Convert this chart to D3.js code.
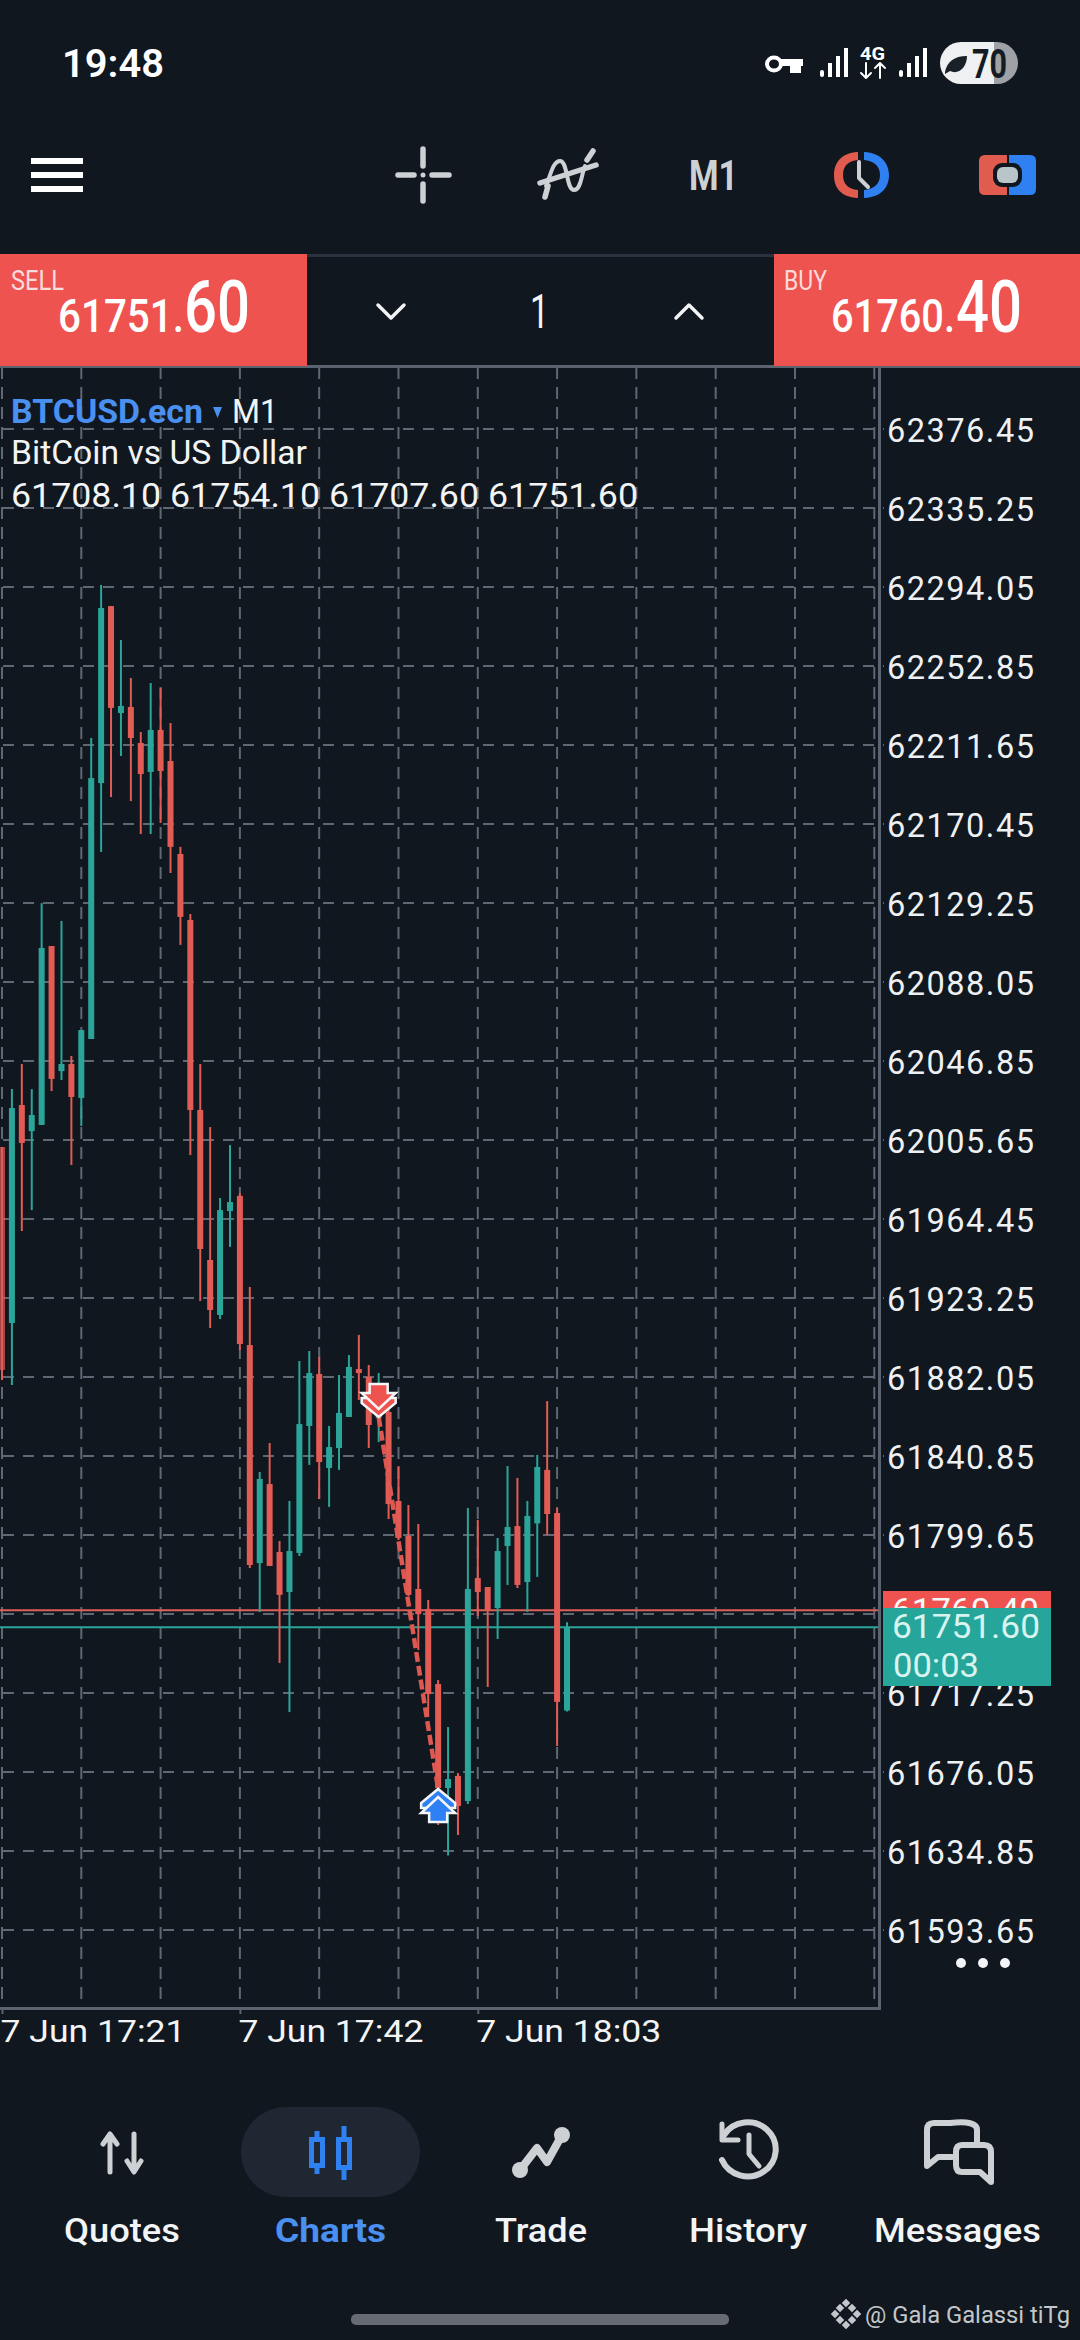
<!DOCTYPE html>
<html>
<head>
<meta charset="utf-8">
<style>
  html, body { margin: 0; padding: 0; background: #10171f; }
  svg { display: block; }
  text { font-family: Roboto, sans-serif; }
</style>
</head>
<body>
<svg id="container" width="1080" height="2340"></svg>

<script src="https://d3js.org/d3.v7.min.js"></script>
<script>
  // OHLC of the M1 bars
  const opens = [62002.0,61910.2,62023.9,62010.3,62013.5,62106.8,62041.6,62045.3,62027.6,62058.3,
    62191.8,62284.1,62228.3,62231.5,62212.7,62197.6,62219.5,62203.3,62154.8,62120.4,
    62021.3,61943.1,61914.4,61968.6,61976.5,61898.7,61785.0,61826.2,61790.8,61769.9,
    61790.3,61856.5,61883.6,61834.6,61845.0,61861.2,61886.2,61882.1,61860.7,61863.8,
    61817.4,61799.1,61771.5,61761.1,61721.9,61667.7,61674.0,61660.9,61777.2,61772.5,
    61761.6,61793.9,61804.3,61775.1,61805.7,61833.6,61811.1,61708.10]
  const highs = [62002.0,62032.2,62045.3,62032.2,62129.2,62106.8,62119.9,62049.5,62063.0,62215.3,
    62295.1,62284.1,62266.4,62246.6,62218.4,62244.0,62241.4,62223.1,62158.5,62123.5,
    62045.3,62012.4,61975.4,62003.0,61978.0,61929.0,61832.5,61847.6,61796.5,61817.4,
    61890.4,61895.6,61892.5,61856.5,61883.1,61893.5,61904.0,61888.3,61884.1,61867.4,
    61835.6,61815.3,61805.4,61765.8,61724.0,61699.5,61675.5,61813.7,61807.5,61772.5,
    61798.1,61835.6,61829.4,61817.4,61841.4,61869.5,61813.7,61754.10]
  const lows = [61880.5,61877.9,61958.2,61969.1,62013.5,62031.2,62036.9,61992.6,62013.0,62058.3,
    62155.9,62184.5,62205.9,62182.4,62165.2,62165.2,62171.0,62144.9,62107.4,61997.8,
    61921.7,61907.6,61912.3,61949.9,61896.1,61782.4,61759.5,61783.5,61732.9,61707.3,
    61788.7,61836.2,61818.4,61814.3,61833.6,61861.2,61870.1,61845.0,61848.1,61808.0,
    61797.0,61767.8,61739.7,61704.7,61648.4,61632.5,61643.2,61659.4,61757.4,61720.4,
    61745.4,61773.6,61772.0,61759.5,61777.8,61799.7,61689.6,61707.60]
  const closes = [61885.7,62022.3,62004.1,62018.7,62105.8,62037.5,62045.3,62028.1,62063.0,62194.4,
    62283.1,62231.0,62232.0,62215.3,62196.5,62219.5,62198.1,62158.5,62122.0,62021.3,
    61948.8,61917.0,61969.1,61973.3,61899.3,61784.0,61828.9,61783.5,61768.4,61791.3,
    61857.5,61884.1,61837.7,61845.5,61863.3,61887.3,61884.1,61857.0,61872.7,61815.8,
    61798.1,61768.4,61758.4,61716.7,61667.7,61672.4,61658.3,61771.5,61769.9,61760.5,
    61791.3,61803.8,61773.6,61809.6,61835.1,61810.6,61712.6,61751.60]

  const priceTicks = [62376.45,62335.25,62294.05,62252.85,62211.65,62170.45,62129.25,62088.05,62046.85,62005.65,
    61964.45,61923.25,61882.05,61840.85,61799.65,61758.45,61717.25,61676.05,61634.85,61593.65]
  const timeBars = [0, 24, 48]
  const timeLabels = ['7 Jun 17:21', '7 Jun 17:42', '7 Jun 18:03']
  const gridBars = [0, 8, 16, 24, 32, 40, 48, 56, 64, 72, 80, 88]

  const ask = 61760.40
  const bid = 61751.60
  const tradeBars = [38, 44]
  const tradePrices = [61861.2, 61667.2]

  const bg = '#10171f', red = '#ef5350', barRed = '#e25b55', teal = '#2ba599', blue = '#4a90f0',
    gridCol = '#5e6773', frameCol = '#5b6370', iconCol = '#ced1d4', white = '#f2f4f5'

  const svg = d3.select('#container')
  const yScale = d3.scaleLinear().domain([61593.65, 62376.45]).range([1930, 429])
  const xScale = d3.scaleLinear().domain([0, 57]).range([2, 567])

  // text squeezed to the measured width, the screenshot is stretched
  function label(s, x, base, size, width, fill, weight) {
    const t = svg.append('text').attr('x', x).attr('y', base)
      .attr('font-size', size).attr('font-weight', weight || 400).attr('fill', fill || white).text(s)
    if (width) t.attr('textLength', width).attr('lengthAdjust', 'spacingAndGlyphs')
    return t
  }
  function rect(x, y, w, h, fill, r) {
    return svg.append('rect').attr('x', x).attr('y', y).attr('width', w).attr('height', h)
      .attr('fill', fill).attr('rx', r || 0)
  }
  function stroke(d, col, w) {
    return svg.append('path').attr('d', d).attr('fill', 'none').attr('stroke', col)
      .attr('stroke-width', w).attr('stroke-linecap', 'round').attr('stroke-linejoin', 'round')
  }

  rect(0, 0, 1080, 2340, bg)

  // grid
  svg.append('g').selectAll('line').data(priceTicks).enter().append('line')
    .attr('x1', 3).attr('x2', 884)
    .attr('y1', d => yScale(d)).attr('y2', d => yScale(d))
    .attr('stroke', gridCol).attr('stroke-width', 2).attr('stroke-dasharray', '11 9')
  svg.append('g').selectAll('line').data(gridBars).enter().append('line')
    .attr('x1', d => xScale(d)).attr('x2', d => xScale(d))
    .attr('y1', 367).attr('y2', 2008)
    .attr('stroke', gridCol).attr('stroke-width', 2).attr('stroke-dasharray', '12 8')

  // ask and bid lines sit under the bars
  svg.append('line').attr('x1', 0).attr('x2', 879).attr('y1', yScale(ask)).attr('y2', yScale(ask))
    .attr('stroke', '#dd5f59').attr('stroke-width', 2)
  svg.append('line').attr('x1', 0).attr('x2', 879).attr('y1', yScale(bid)).attr('y2', yScale(bid))
    .attr('stroke', teal).attr('stroke-width', 2)

  // candles, the first one is half off the left edge and looks dimmer
  const bars = d3.range(opens.length)
  const barCol = i => closes[i] >= opens[i] ? teal : barRed
  svg.append('g').selectAll('line').data(bars).enter().append('line')
    .attr('x1', i => xScale(i)).attr('x2', i => xScale(i))
    .attr('y1', i => yScale(highs[i])).attr('y2', i => yScale(lows[i]))
    .attr('stroke', barCol).attr('stroke-width', 2)
  svg.append('g').selectAll('rect').data(bars).enter().append('rect')
    .attr('x', i => xScale(i) - 3).attr('width', 6)
    .attr('y', i => yScale(Math.max(opens[i], closes[i])))
    .attr('height', i => Math.max(2, Math.abs(yScale(opens[i]) - yScale(closes[i]))))
    .attr('fill', barCol)
    .attr('fill-opacity', i => i === 0 ? 0.7 : 1)

  // trade line and its arrows
  const tradeLine = d3.line().x(d => xScale(d[0])).y(d => yScale(d[1]))
  svg.append('path').attr('d', tradeLine(d3.zip(tradeBars, tradePrices)))
    .attr('fill', 'none').attr('stroke', '#dd5850').attr('stroke-width', 4.5).attr('stroke-dasharray', '10 4')

  function arrow(x, y, dir, fill) {
    const g = svg.append('g').attr('transform', `translate(${x},${y}) scale(1,${dir})`)
      .attr('stroke', '#f4f6f8').attr('stroke-width', 2.5).attr('stroke-linejoin', 'miter').attr('fill', fill)
    g.append('path').attr('d', 'M-17,-14 L0,0 L17,-14 L17,-19 L-17,-19 Z')
    g.append('path').attr('d', 'M-9,-33 L9,-33 L9,-24 L17,-24 L0,-8 L-17,-24 L-9,-24 Z')
  }
  arrow(xScale(tradeBars[0]), yScale(tradePrices[0]), 1, red)
  arrow(xScale(tradeBars[1]), yScale(tradePrices[1]), -1, '#2f80f5')

  // frame
  rect(878, 367, 3, 1643, frameCol)
  rect(0, 2007, 881, 3, frameCol)

  // price axis
  const priceAxis = d3.axisRight(yScale).tickValues(priceTicks).tickFormat(d3.format('.2f')).tickSize(0).tickPadding(0)
  const pa = svg.append('g').attr('transform', 'translate(887,0)').call(priceAxis)
  pa.select('.domain').remove()
  pa.selectAll('text').attr('font-family', 'Roboto').attr('font-size', 32.5).attr('fill', '#eef1f3')
    .attr('dy', null).attr('y', 0).attr('dominant-baseline', null)
    .attr('transform', 'translate(0,12)')
    .attr('textLength', 147).attr('lengthAdjust', 'spacing')

  // time axis
  const timeAxis = d3.axisBottom(xScale).tickValues(timeBars).tickFormat((d, i) => timeLabels[i]).tickSize(5).tickPadding(0)
  const ta = svg.append('g').attr('transform', 'translate(0,2009)').call(timeAxis)
  ta.select('.domain').remove()
  ta.selectAll('line').attr('stroke', frameCol).attr('stroke-width', 2)
  ta.selectAll('text').attr('font-family', 'Roboto').attr('font-size', 32).attr('fill', white)
    .attr('text-anchor', 'start').attr('x', -2).attr('y', 33).attr('dy', null)
    .attr('textLength', 185).attr('lengthAdjust', 'spacingAndGlyphs')

  // current price tags
  rect(883, 1591, 168, 20, red)
  label(d3.format('.2f')(ask), 892, 1622, 32.5, 147, '#f6f7f7')
  rect(883, 1608, 168, 78, '#26a69a')
  label(d3.format('.2f')(bid), 892, 1638, 32.5, 148, '#d9f4f0')
  label('00:03', 893, 1677, 32.5, 86, '#d9f4f0')
  svg.append('g').selectAll('circle').data([961, 983, 1005]).enter().append('circle')
    .attr('cx', d => d).attr('cy', 1963).attr('r', 5).attr('fill', '#f2f4f5')

  // chart header
  label('BTCUSD.ecn', 11, 423, 33, 192, blue, 700)
  svg.append('path').attr('d', 'M213,407 L222,407 L217.5,418 Z').attr('fill', blue)
  label('M1', 232, 423, 33, 46)
  label('BitCoin vs US Dollar', 11, 464, 33, 296)
  const headerValues = [opens[57], highs[57], lows[57], closes[57]]
  ;[11, 170, 329, 488].forEach((x, i) => label(d3.format('.2f')(headerValues[i]), x, 507, 33, 150))

  // sell / buy strip
  rect(307, 254, 467, 113, bg)
  rect(307, 254, 467, 3, '#2a3240')
  rect(0, 365, 1080, 3, frameCol)
  rect(0, 254, 307, 112, red)
  rect(774, 254, 306, 112, red)
  label('SELL', 11, 290, 28, 53, '#fbdcdc')
  label('61751.', 58, 332, 47, 126, '#fff', 500)
  label('60', 184, 332, 72, 66, '#fff', 500)
  label('BUY', 784, 290, 28, 43, '#fbdcdc')
  label('61760.', 831, 332, 47, 124, '#fff', 500)
  label('40', 956, 332, 72, 66, '#fff', 500)
  stroke('M378,305 L391,318 L404,305', white, 3.5)
  stroke('M676,318 L689,305 L702,318', white, 3.5)
  label('1', 530, 328, 48, 19, white)

  // status bar
  label('19:48', 62, 77, 39, 102, '#fff', 600)
  const key = svg.append('g')
  key.append('ellipse').attr('cx', 774).attr('cy', 64).attr('rx', 7).attr('ry', 6.5)
    .attr('fill', 'none').attr('stroke', '#fff').attr('stroke-width', 4)
  key.append('path').attr('d', 'M781,59 H803 V66 H801 V73 H790 V66 H781 Z').attr('fill', '#fff')
  ;[820, 899].forEach(x0 => {
    rect(x0, 70, 4, 7, '#fff', 2)
    rect(x0 + 8, 63, 4, 14, '#fff')
    rect(x0 + 16, 56, 4, 21, '#fff')
    rect(x0 + 24, 48, 4, 29, '#fff')
  })
  label('4G', 860, 60, 19, 25, '#fff', 700)
  stroke('M866,63 V78 M861,73 L866,78 L871,73 M880,78 V63 M875,68 L880,63 L885,68', '#fff', 2)
  svg.append('clipPath').attr('id', 'pill').append('rect').attr('x', 940).attr('y', 42)
    .attr('width', 78).attr('height', 42).attr('rx', 21)
  const batt = svg.append('g').attr('clip-path', 'url(#pill)')
  batt.append('rect').attr('x', 940).attr('y', 42).attr('width', 54).attr('height', 42).attr('fill', '#eff0f1')
  batt.append('rect').attr('x', 994).attr('y', 42).attr('width', 24).attr('height', 42).attr('fill', '#9ea1a5')
  svg.append('path').attr('d', 'M945,72 C947,62 954,56 967,56 C967,68 958,75 950,71 L945,74 Z').attr('fill', '#1a2028')
  label('70', 972, 78, 40, 35, '#141b22', 700)

  // toolbar
  rect(31, 158, 52, 6, '#fff'); rect(31, 172, 52, 6, '#fff'); rect(31, 186, 52, 6, '#fff')
  stroke('M423,149 V166 M423,184 V201 M398,175 H414 M432,175 H449', iconCol, 5.5)
  svg.append('circle').attr('cx', 423).attr('cy', 175).attr('r', 2.5).attr('fill', iconCol)
  stroke('M546,186 C551,174 553,161 560,161 C568,161 566,190 574,190 C581,190 581,176 585,166', iconCol, 4)
  stroke('M540,183 L596,165 M545,197 L548,186 M587,160 L593,151', iconCol, 5.5)
  label('M1', 689, 190, 42, 49, iconCol, 700)

  svg.append('path').attr('d', 'M858,152 C840,153 834,164 834,175 C834,187 840,197 858,198 L858,190 C848,189 843,184 843,175 C843,166 848,161 858,160 Z').attr('fill', '#e25b4f')
  svg.append('path').attr('d', 'M864,152 C882,153 889,164 889,175 C889,187 882,197 864,198 L864,190 C874,189 880,184 880,175 C880,166 874,161 864,160 Z').attr('fill', '#2f80f0')
  stroke('M859,162 V178 L868,187', iconCol, 4)

  svg.append('path').attr('d', 'M1007,155 H985 Q979,155 979,161 V189 Q979,195 985,195 H1007 Z').attr('fill', '#e25b4f')
  svg.append('path').attr('d', 'M1009,155 H1030 Q1036,155 1036,161 V189 Q1036,195 1030,195 H1009 Z').attr('fill', '#2f80f0')
  rect(993, 163, 29, 24, '#10171f', 9)
  rect(997, 167, 21, 16, '#b8c5c9', 6)

  // bottom nav
  rect(241, 2107, 179, 90, '#1f2832', 45)
  label('Quotes', 64, 2242, 34, 116, white, 500)
  label('Charts', 275, 2242, 34, 111, blue, 700)
  label('Trade', 495, 2242, 34, 92, white, 500)
  label('History', 689, 2242, 34, 118, white, 500)
  label('Messages', 874, 2242, 34, 167, white, 500)

  stroke('M110,2172 V2135 M103,2144 L110,2134 L117,2144', iconCol, 5)
  stroke('M134,2134 V2171 M127,2161 L134,2172 L141,2161', iconCol, 5)

  ;[[317, 2131, 2174, 2137, 2168], [344, 2126, 2180, 2137, 2170]].forEach(c => {
    rect(c[0] - 2.5, c[1], 5, c[2] - c[1], '#2f80f0')
    rect(c[0] - 8, c[3], 16, c[4] - c[3], '#2f80f0')
    rect(c[0] - 3, c[3] + 5, 6, c[4] - c[3] - 10, '#1f2832')
  })

  stroke('M520,2170 L537,2148 L547,2162 L562,2135', iconCol, 8)
  svg.append('circle').attr('cx', 520).attr('cy', 2170).attr('r', 8).attr('fill', iconCol)
  svg.append('circle').attr('cx', 562).attr('cy', 2135).attr('r', 8).attr('fill', iconCol)

  stroke('M724,2135 A28,27 0 1 1 722,2160', iconCol, 6)
  stroke('M722,2124 V2140 H738', iconCol, 5)
  stroke('M749,2135 V2154 L759,2166', iconCol, 5)

  stroke('M950,2123 H934 Q927,2123 927,2130 V2166 L938,2157 H952', iconCol, 6)
  stroke('M950,2123 Q977,2120 977,2130 V2144', iconCol, 6)
  stroke('M962,2145 H984 Q991,2145 991,2152 V2182 L980,2172 H962 Q956,2172 956,2165 V2152 Q956,2145 962,2145 Z', iconCol, 6)

  // home bar and watermark
  rect(351, 2314, 378, 11, '#666c72', 5)
  const wm = svg.append('g').attr('fill', '#c4c7ca')
  ;[[846, 2303], [846, 2325], [835, 2314], [857, 2314], [840, 2308], [852, 2308], [840, 2320], [852, 2320]].forEach(p => {
    wm.append('rect').attr('x', p[0] - 3).attr('y', p[1] - 3).attr('width', 6).attr('height', 6)
      .attr('transform', `rotate(45 ${p[0]} ${p[1]})`)
  })
  label('@ Gala Galassi tiTg', 865, 2323, 24, 205, '#c4c7ca')
</script>
</body>
</html>
